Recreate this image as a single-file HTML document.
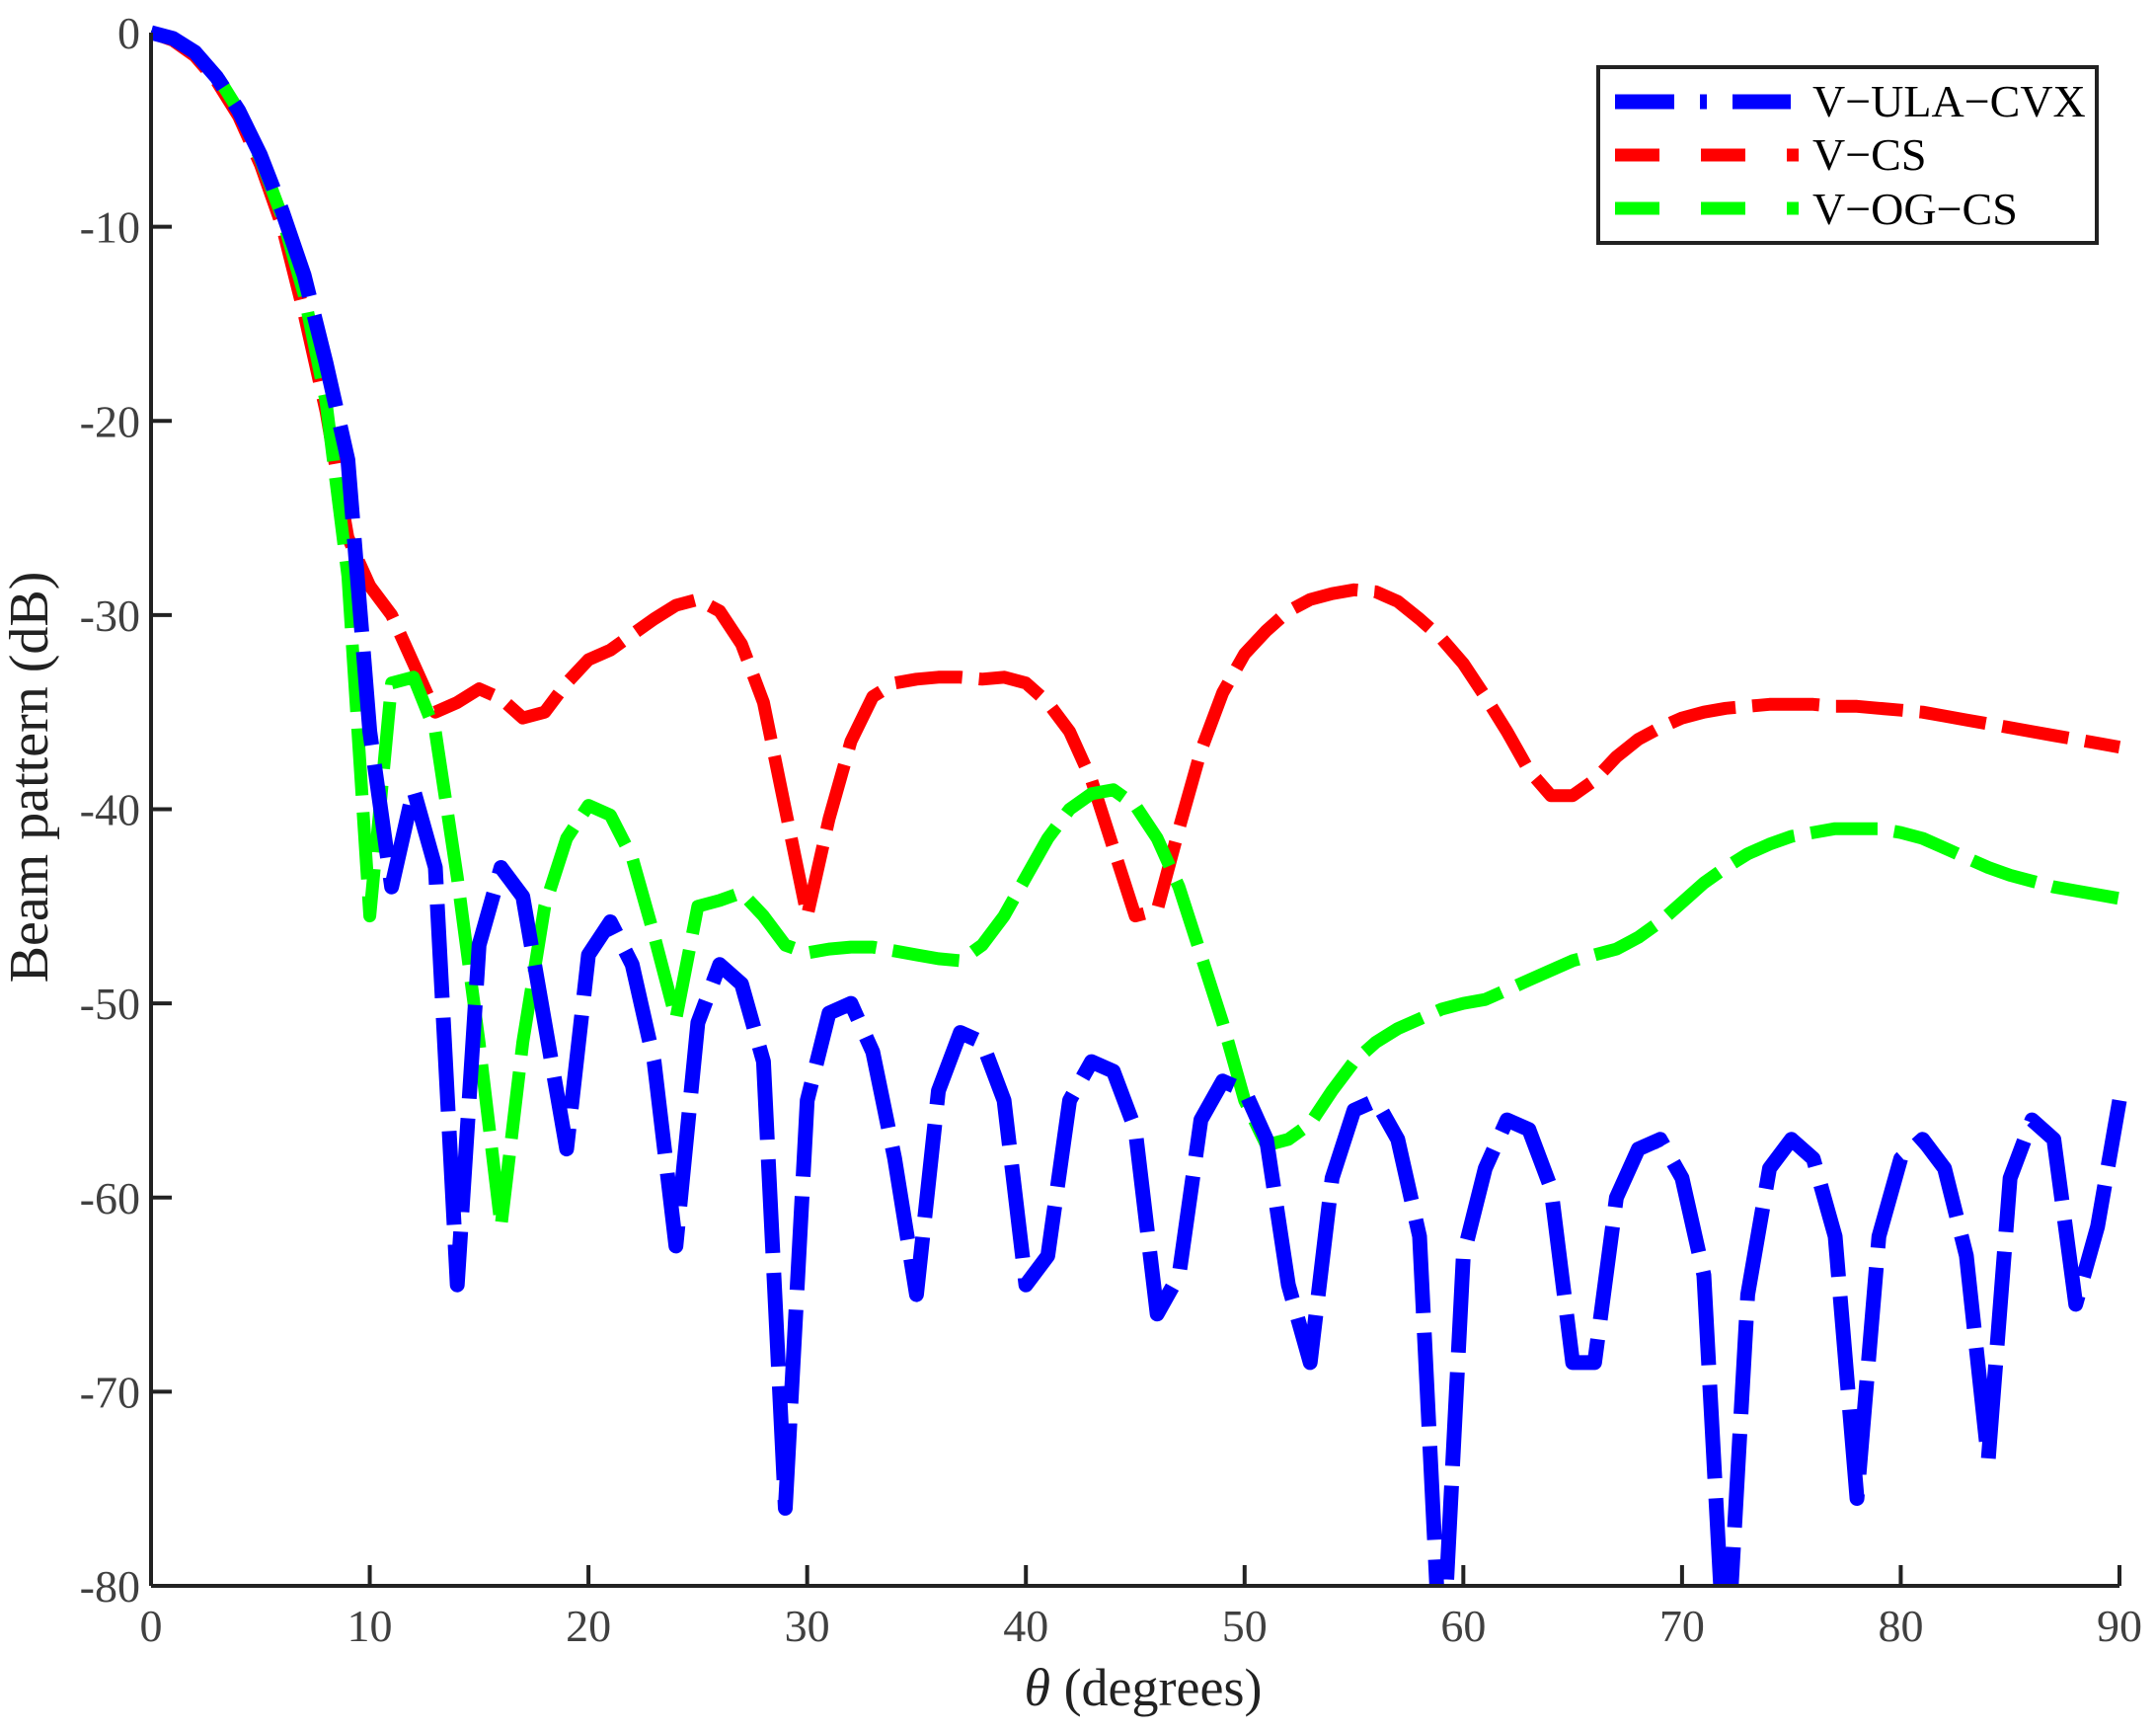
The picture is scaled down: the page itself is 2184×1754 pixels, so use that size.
<!DOCTYPE html>
<html><head><meta charset="utf-8"><style>
html,body{margin:0;padding:0;background:#fff;}
svg{display:block;font-family:"Liberation Serif",serif;}
</style></head><body>
<svg id="chart" width="2184" height="1754" viewBox="0 0 2184 1754" xmlns="http://www.w3.org/2000/svg">
<defs><clipPath id="plotclip"><rect x="150" y="0" width="2034" height="1606"/></clipPath></defs>
<g id="grid-ticks"></g>
<g id="series" clip-path="url(#plotclip)"></g>
<line x1="153" y1="1606" x2="2147" y2="1606" stroke="#222" stroke-width="4"/>
<line x1="153" y1="33" x2="153" y2="1606" stroke="#222" stroke-width="4"/>
<text x="1158" y="1727" font-size="54" text-anchor="middle" fill="#222"><tspan font-style="italic">θ</tspan> (degrees)</text>
<text transform="translate(48,787) rotate(-90)" font-size="56" text-anchor="middle" fill="#222">Beam pattern (dB)</text>
<g>
<rect x="1619" y="68" width="505" height="178" fill="#fff" stroke="#222" stroke-width="4"/>
<g>
<line x1="1636" y1="103" x2="1814" y2="103" stroke="#0000ff" stroke-width="15" stroke-dasharray="60 26 7 26"/>
<text x="1836" y="118" font-size="46" fill="#000">V−ULA−CVX</text></g>
<g>
<line x1="1636" y1="157" x2="1822" y2="157" stroke="#ff0000" stroke-width="13" stroke-dasharray="45 42"/>
<text x="1836" y="172" font-size="46" fill="#000">V−CS</text></g>
<g>
<line x1="1636" y1="211" x2="1822" y2="211" stroke="#00ff00" stroke-width="13" stroke-dasharray="45 42"/>
<text x="1836" y="227" font-size="46" fill="#000">V−OG−CS</text></g>
</g>
</svg>
<script>
const thetaDeg = [0,1,2,3,4,5,6,7,8,9,10,11,12,13,14,15,16,17,18,19,20,21,22,23,24,25,26,27,28,29,30,31,32,33,34,35,36,37,38,39,40,41,42,43,44,45,46,47,48,49,50,51,52,53,54,55,56,57,58,59,60,61,62,63,64,65,66,67,68,69,70,71,72,73,74,75,76,77,78,79,80,81,82,83,84,85,86,87,88,89,90];
const ulaCvx = [0,-0.3,-1,-2.3,-4,-6.3,-9.2,-12.5,-17,-22,-36,-44,-39,-43,-64.5,-47,-43,-44.5,-51,-57.5,-47.5,-45.8,-48,-53,-62.5,-51,-48,-49,-53,-76,-55,-50.5,-50,-52.5,-58,-65,-54.5,-51.5,-52,-55,-64.5,-63,-55,-53,-53.5,-56.5,-66,-64,-56,-54,-54.5,-57,-64.5,-68.5,-59,-55.5,-55,-57,-62,-85,-63,-58.5,-56,-56.5,-59.5,-68.5,-68.5,-60,-57.5,-57,-59,-64,-85,-65,-58.5,-57,-58,-62,-75.5,-62,-58,-57,-58.5,-63,-73.5,-59,-56,-57,-65.5,-61.5,-55];
const vCs = [0,-0.4,-1.2,-2.5,-4.3,-6.8,-10,-14.5,-19.5,-26,-28.5,-30,-32.5,-35,-34.5,-33.8,-34.3,-35.3,-35,-33.5,-32.3,-31.8,-31,-30.2,-29.5,-29.2,-29.8,-31.5,-34.5,-40,-45.5,-40.5,-36.5,-34.2,-33.5,-33.3,-33.2,-33.2,-33.3,-33.2,-33.5,-34.5,-36,-38.5,-42,-45.5,-45.2,-41,-37,-34,-32,-30.8,-29.8,-29.2,-28.9,-28.7,-28.8,-29.3,-30.2,-31.2,-32.5,-34.2,-36,-38,-39.3,-39.3,-38.5,-37.3,-36.4,-35.8,-35.3,-35,-34.8,-34.7,-34.6,-34.6,-34.6,-34.7,-34.7,-34.8,-34.9,-35,-35.2,-35.4,-35.6,-35.8,-36,-36.2,-36.4,-36.6,-36.8];
const vOgCs = [0,-0.3,-1,-2.2,-4,-6.5,-9.5,-13.5,-19,-28,-45.5,-33.5,-33.2,-36,-43.5,-52,-61.5,-52,-45,-41.5,-39.8,-40.3,-42.5,-46.5,-50.8,-45,-44.7,-44.3,-45.5,-47,-47.4,-47.2,-47.1,-47.1,-47.3,-47.5,-47.7,-47.8,-47,-45.5,-43.5,-41.5,-40,-39.2,-39,-39.8,-41.5,-44,-47.5,-51,-55,-57.3,-57,-56.2,-54.5,-53,-52,-51.3,-50.8,-50.3,-50,-49.8,-49.3,-48.8,-48.3,-47.8,-47.5,-47.2,-46.6,-45.8,-44.8,-43.8,-43,-42.3,-41.8,-41.4,-41.2,-41,-41,-41,-41.2,-41.5,-42,-42.5,-43,-43.4,-43.7,-44,-44.2,-44.4,-44.6];
const xTicks = [0,10,20,30,40,50,60,70,80,90];
const yTicks = [0,-10,-20,-30,-40,-50,-60,-70,-80];

const NS = "http://www.w3.org/2000/svg";
function xs(v){ return 153 + v*(1994/90); }
function ys(v){ return 33 + (-v)*(1573/80); }

const axes = document.getElementById('grid-ticks');
xTicks.forEach(t=>{
  const l=document.createElementNS(NS,'line');
  l.setAttribute('x1',xs(t));l.setAttribute('x2',xs(t));l.setAttribute('y1',1606);l.setAttribute('y2',1585);
  l.setAttribute('stroke','#222');l.setAttribute('stroke-width','4');
  
  
  axes.appendChild(l);
  const tx=document.createElementNS(NS,'text');
  tx.setAttribute('x',xs(t));tx.setAttribute('y',1662);tx.setAttribute('text-anchor','middle');
  tx.setAttribute('font-size','46');tx.setAttribute('fill','#404040');tx.textContent=t;
  
  
  axes.appendChild(tx);
});
yTicks.forEach(t=>{
  const l=document.createElementNS(NS,'line');
  l.setAttribute('x1',153);l.setAttribute('x2',174);l.setAttribute('y1',ys(t));l.setAttribute('y2',ys(t));
  l.setAttribute('stroke','#222');l.setAttribute('stroke-width','4');
  
  
  axes.appendChild(l);
  const tx=document.createElementNS(NS,'text');
  tx.setAttribute('x',142);tx.setAttribute('y',ys(t)+16);tx.setAttribute('text-anchor','end');
  tx.setAttribute('font-size','46');tx.setAttribute('fill','#404040');tx.textContent=t;
  
  
  axes.appendChild(tx);
});

const sg = document.getElementById('series');
function drawSeries(vals,color,width,dash,name){
  const p=document.createElementNS(NS,'polyline');
  p.setAttribute('points',vals.map((v,i)=>xs(thetaDeg[i]).toFixed(1)+','+ys(v).toFixed(1)).join(' '));
  p.setAttribute('fill','none');p.setAttribute('stroke',color);p.setAttribute('stroke-width',width);
  p.setAttribute('stroke-dasharray',dash);p.setAttribute('stroke-linejoin','round');
  
  
  sg.appendChild(p);
}
drawSeries(vCs,'#ff0000',13,'68 17','series-v-cs');
drawSeries(vOgCs,'#00ff00',13,'68 17','series-v-og-cs');
drawSeries(ulaCvx,'#0000ff',15,'95 20','series-v-ula-cvx');
</script>
</body></html>
